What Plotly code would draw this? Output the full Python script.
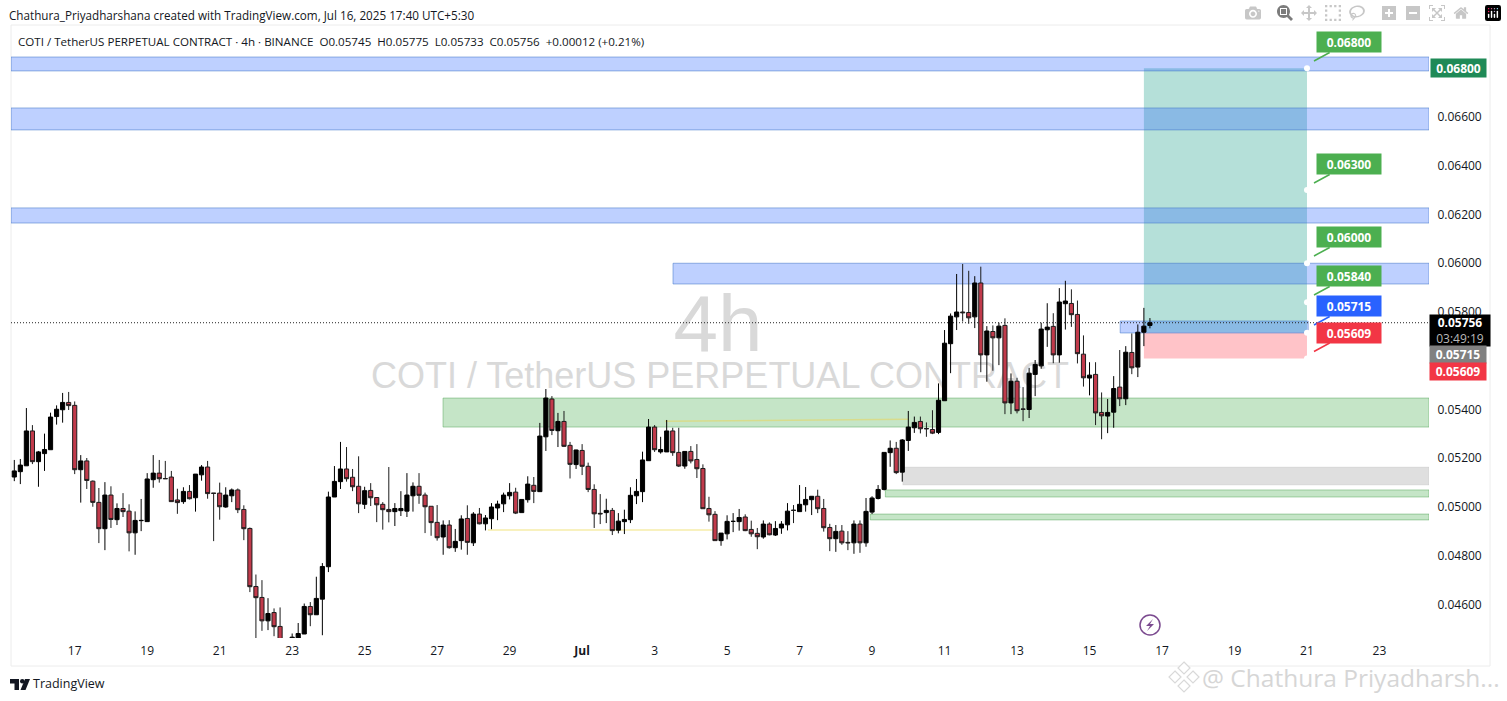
import pandas as pd
import plotly.graph_objects as go

W, H = 1507, 701
ML, MR, MT, MB = 11, 78, 25, 63

# 4h candles
opens = [
    0.05123, 0.05145, 0.05169, 0.05312, 0.05186, 0.05219, 0.05235, 0.05371, 0.05399, 0.05429,
    0.05417, 0.05153, 0.05189, 0.05106, 0.05019, 0.04911, 0.05049, 0.04948, 0.04994, 0.04983,
    0.04894, 0.04944, 0.04940, 0.05112, 0.05139, 0.05117, 0.05123, 0.05029, 0.05022, 0.05064,
    0.05038, 0.05132, 0.05164, 0.05057, 0.05057, 0.05000, 0.05046, 0.05070, 0.04990, 0.04912,
    0.04674, 0.04629, 0.04533, 0.04567, 0.04510, 0.04450, 0.04450, 0.04462, 0.04479, 0.04592,
    0.04558, 0.04622, 0.04755, 0.05041, 0.05104, 0.05156, 0.05122, 0.05085, 0.05011, 0.05068,
    0.05039, 0.05011, 0.04990, 0.04981, 0.04985, 0.04983, 0.05046, 0.05085, 0.05049, 0.05003,
    0.04937, 0.04877, 0.04926, 0.04833, 0.04862, 0.04953, 0.04853, 0.04971, 0.04931, 0.04952,
    0.04996, 0.05013, 0.05046, 0.05061, 0.04977, 0.05030, 0.05089, 0.05063, 0.05288, 0.05443,
    0.05313, 0.05351, 0.05253, 0.05174, 0.05232, 0.05167, 0.05072, 0.04974, 0.04977, 0.04986,
    0.04905, 0.04940, 0.04948, 0.05046, 0.05063, 0.05190, 0.05328, 0.05226, 0.05226, 0.05312,
    0.05224, 0.05168, 0.05228, 0.05195, 0.05158, 0.04994, 0.04970, 0.04862, 0.04890, 0.04941,
    0.04940, 0.04959, 0.04908, 0.04892, 0.04877, 0.04930, 0.04885, 0.04914, 0.04927, 0.04987,
    0.04981, 0.05009, 0.05030, 0.05044, 0.04994, 0.04916, 0.04870, 0.04901, 0.04855, 0.04853,
    0.04930, 0.04853, 0.04979, 0.05035, 0.05072, 0.05223, 0.05241, 0.05143, 0.05273, 0.05325,
    0.05351, 0.05322, 0.05318, 0.05306, 0.05436, 0.05670, 0.05780, 0.05800, 0.05798, 0.05780,
    0.05919, 0.05624, 0.05720, 0.05694, 0.05745, 0.05427, 0.05516, 0.05402, 0.05400, 0.05544,
    0.05579, 0.05727, 0.05741, 0.05624, 0.05834, 0.05835, 0.05790, 0.05627, 0.05529, 0.05544,
    0.05388, 0.05373, 0.05389, 0.05492, 0.05444, 0.05634, 0.05574, 0.05717, 0.05745,
]
highs = [
    0.05193, 0.05197, 0.05406, 0.05336, 0.05230, 0.05301, 0.05387, 0.05417, 0.05468, 0.05472,
    0.05433, 0.05213, 0.05201, 0.05109, 0.05078, 0.05102, 0.05085, 0.05015, 0.05057, 0.05011,
    0.04982, 0.05033, 0.05139, 0.05213, 0.05193, 0.05189, 0.05148, 0.05075, 0.05081, 0.05090,
    0.05135, 0.05172, 0.05189, 0.05057, 0.05100, 0.05081, 0.05076, 0.05076, 0.05007, 0.04916,
    0.04723, 0.04700, 0.04626, 0.04584, 0.04588, 0.04458, 0.04481, 0.04524, 0.04604, 0.04610,
    0.04714, 0.04770, 0.05063, 0.05168, 0.05267, 0.05246, 0.05156, 0.05208, 0.05083, 0.05098,
    0.05039, 0.05020, 0.05164, 0.05016, 0.05065, 0.05139, 0.05101, 0.05139, 0.05059, 0.05003,
    0.05008, 0.04945, 0.04946, 0.04910, 0.04966, 0.05007, 0.04979, 0.04996, 0.04967, 0.05016,
    0.05026, 0.05059, 0.05098, 0.05079, 0.05031, 0.05126, 0.05123, 0.05345, 0.05484, 0.05455,
    0.05386, 0.05394, 0.05267, 0.05235, 0.05258, 0.05182, 0.05093, 0.05053, 0.05034, 0.04996,
    0.04975, 0.04989, 0.05081, 0.05115, 0.05227, 0.05361, 0.05336, 0.05288, 0.05357, 0.05325,
    0.05325, 0.05228, 0.05250, 0.05258, 0.05175, 0.05042, 0.04983, 0.04893, 0.04966, 0.04975,
    0.04992, 0.04970, 0.04944, 0.04914, 0.04945, 0.04937, 0.04942, 0.04942, 0.05016, 0.05008,
    0.05090, 0.05082, 0.05044, 0.05071, 0.05033, 0.04931, 0.04926, 0.04926, 0.04901, 0.04945,
    0.04945, 0.05037, 0.05044, 0.05090, 0.05224, 0.05273, 0.05267, 0.05279, 0.05394, 0.05371,
    0.05371, 0.05347, 0.05397, 0.05507, 0.05726, 0.05794, 0.05956, 0.05997, 0.05969, 0.05947,
    0.05986, 0.05742, 0.05745, 0.05756, 0.05774, 0.05548, 0.05530, 0.05492, 0.05571, 0.05603,
    0.05756, 0.05836, 0.05795, 0.05898, 0.05928, 0.05893, 0.05847, 0.05704, 0.05594, 0.05594,
    0.05470, 0.05443, 0.05537, 0.05644, 0.05660, 0.05712, 0.05749, 0.05817, 0.05775,
]
lows = [
    0.05106, 0.05094, 0.05169, 0.05176, 0.05083, 0.05148, 0.05235, 0.05338, 0.05346, 0.05398,
    0.05135, 0.05018, 0.05074, 0.05001, 0.04852, 0.04823, 0.04914, 0.04926, 0.04959, 0.04818,
    0.04804, 0.04901, 0.04940, 0.05079, 0.05100, 0.05115, 0.05022, 0.04972, 0.05013, 0.05031,
    0.04981, 0.05108, 0.05034, 0.04860, 0.04948, 0.04997, 0.05020, 0.04975, 0.04864, 0.04651,
    0.04455, 0.04492, 0.04495, 0.04470, 0.04440, 0.04435, 0.04440, 0.04455, 0.04479, 0.04511,
    0.04558, 0.04474, 0.04733, 0.05041, 0.05074, 0.05104, 0.05065, 0.04975, 0.04992, 0.05004,
    0.04938, 0.04907, 0.04937, 0.04922, 0.04963, 0.04959, 0.04981, 0.05013, 0.04893, 0.04882,
    0.04862, 0.04804, 0.04829, 0.04816, 0.04825, 0.04804, 0.04840, 0.04929, 0.04904, 0.04909,
    0.04946, 0.04979, 0.05031, 0.04971, 0.04977, 0.05018, 0.05016, 0.05063, 0.05230, 0.05295,
    0.05246, 0.05246, 0.05117, 0.05156, 0.05131, 0.05061, 0.04914, 0.04930, 0.04934, 0.04885,
    0.04892, 0.04889, 0.04934, 0.05012, 0.05020, 0.05190, 0.05226, 0.05219, 0.05226, 0.05210,
    0.05164, 0.05157, 0.05179, 0.05119, 0.04993, 0.04940, 0.04862, 0.04841, 0.04867, 0.04897,
    0.04903, 0.04901, 0.04878, 0.04827, 0.04870, 0.04884, 0.04881, 0.04890, 0.04904, 0.04934,
    0.04981, 0.04981, 0.04967, 0.04975, 0.04899, 0.04819, 0.04816, 0.04845, 0.04823, 0.04808,
    0.04812, 0.04837, 0.04971, 0.05031, 0.05068, 0.05165, 0.05135, 0.05104, 0.05230, 0.05304,
    0.05302, 0.05288, 0.05299, 0.05299, 0.05436, 0.05549, 0.05726, 0.05761, 0.05752, 0.05734,
    0.05553, 0.05514, 0.05559, 0.05582, 0.05381, 0.05381, 0.05384, 0.05352, 0.05365, 0.05455,
    0.05567, 0.05657, 0.05590, 0.05592, 0.05728, 0.05739, 0.05589, 0.05494, 0.05458, 0.05336,
    0.05278, 0.05303, 0.05325, 0.05414, 0.05418, 0.05545, 0.05533, 0.05660, 0.05733,
]
closes = [
    0.05148, 0.05172, 0.05312, 0.05186, 0.05226, 0.05236, 0.05369, 0.05401, 0.05429, 0.05416,
    0.05153, 0.05189, 0.05109, 0.05019, 0.04911, 0.05049, 0.04949, 0.04994, 0.04981, 0.04894,
    0.04945, 0.04945, 0.05115, 0.05139, 0.05116, 0.05116, 0.05022, 0.05018, 0.05064, 0.05034,
    0.05135, 0.05164, 0.05055, 0.05056, 0.05001, 0.05049, 0.05070, 0.04989, 0.04911, 0.04673,
    0.04628, 0.04533, 0.04563, 0.04509, 0.04450, 0.04445, 0.04466, 0.04481, 0.04592, 0.04558,
    0.04625, 0.04756, 0.05041, 0.05105, 0.05156, 0.05116, 0.05083, 0.05013, 0.05067, 0.05038,
    0.05009, 0.04989, 0.04981, 0.04994, 0.04994, 0.05049, 0.05085, 0.05048, 0.05001, 0.04936,
    0.04874, 0.04926, 0.04833, 0.04859, 0.04951, 0.04855, 0.04971, 0.04931, 0.04955, 0.05000,
    0.05012, 0.05049, 0.05060, 0.04975, 0.05031, 0.05094, 0.05064, 0.05291, 0.05447, 0.05314,
    0.05351, 0.05249, 0.05175, 0.05234, 0.05167, 0.05072, 0.04972, 0.04972, 0.04986, 0.04903,
    0.04942, 0.04949, 0.05048, 0.05064, 0.05193, 0.05328, 0.05235, 0.05236, 0.05312, 0.05223,
    0.05168, 0.05228, 0.05189, 0.05157, 0.04993, 0.04968, 0.04862, 0.04893, 0.04941, 0.04941,
    0.04957, 0.04903, 0.04890, 0.04878, 0.04930, 0.04886, 0.04912, 0.04930, 0.04983, 0.04986,
    0.05011, 0.05031, 0.05044, 0.04993, 0.04915, 0.04870, 0.04900, 0.04853, 0.04853, 0.04930,
    0.04853, 0.04982, 0.05037, 0.05072, 0.05224, 0.05241, 0.05141, 0.05275, 0.05328, 0.05347,
    0.05321, 0.05321, 0.05303, 0.05438, 0.05672, 0.05783, 0.05800, 0.05797, 0.05776, 0.05919,
    0.05624, 0.05722, 0.05694, 0.05742, 0.05427, 0.05516, 0.05395, 0.05401, 0.05549, 0.05585,
    0.05730, 0.05738, 0.05624, 0.05841, 0.05845, 0.05789, 0.05629, 0.05530, 0.05541, 0.05386,
    0.05374, 0.05388, 0.05486, 0.05444, 0.05635, 0.05571, 0.05717, 0.05742, 0.05756,
]
times = pd.date_range("2025-06-15 09:30", periods=len(opens), freq="4h")

x_ticks = ["2025-06-17 01:30", "2025-06-19 01:30", "2025-06-21 01:30", "2025-06-23 01:30",
           "2025-06-25 01:30", "2025-06-27 01:30", "2025-06-29 01:30", "2025-07-01 01:30",
           "2025-07-03 01:30", "2025-07-05 01:30", "2025-07-07 01:30", "2025-07-09 01:30",
           "2025-07-11 01:30", "2025-07-13 01:30", "2025-07-15 01:30", "2025-07-17 01:30",
           "2025-07-19 01:30", "2025-07-21 01:30", "2025-07-23 01:30"]
x_labels = ["17", "19", "21", "23", "25", "27", "29", "<b>Jul</b>", "3", "5", "7", "9",
            "11", "13", "15", "17", "19", "21", "23"]
y_ticks = [0.046, 0.048, 0.050, 0.052, 0.054, 0.058, 0.060, 0.062, 0.064, 0.066]

x_end = "2025-07-24 10:18"

# supply / demand boxes: start, end, top, bottom
blue_zones = [
    ("2025-06-15 07:19", x_end, 0.06846, 0.06789),
    ("2025-06-15 07:19", x_end, 0.06637, 0.06547),
    ("2025-06-15 07:19", x_end, 0.06227, 0.06165),
    ("2025-07-03 13:42", x_end, 0.06000, 0.05915),
    ("2025-07-15 21:48", "2025-07-21 02:18", 0.05763, 0.05714),
]
green_zones = [
    ("2025-06-27 05:24", x_end, 0.05447, 0.05328),
    ("2025-07-09 10:18", x_end, 0.05070, 0.05041),
    ("2025-07-09 00:18", x_end, 0.04971, 0.04947),
]
gray_zone = ("2025-07-09 21:54", x_end, 0.05164, 0.05090)

pos_start, pos_end = "2025-07-16 13:30", "2025-07-21 01:30"
entry, stop, target = 0.05715, 0.05609, 0.06800
last_price = 0.05756

callout_prices = [0.06800, 0.06300, 0.06000, 0.05840, 0.05715, 0.05609]
callout_colors = ["#4CAF50", "#4CAF50", "#4CAF50", "#4CAF50", "#2962FF", "#F23645"]
callout_rows = [42, 164, 237, 276, 306, 332.5]


def xp(px):
    return (px - ML) / (W - ML - MR)


def yp(py):
    return (H - MB - py) / (H - MT - MB)


def box(z, fill, line):
    return dict(type="rect", xref="x", yref="y", x0=z[0], x1=z[1], y0=z[3], y1=z[2],
                fillcolor=fill, line=dict(color=line, width=1), layer="below")


shapes = [
    # pane outline
    dict(type="rect", xref="paper", yref="paper", x0=0, x1=xp(1490), y0=yp(666), y1=1,
         line=dict(color="#ececec", width=1), layer="below"),
    # watermarks sit under the candles
    dict(type="rect", xref="paper", yref="paper", x0=xp(560), x1=xp(876), y0=yp(350), y1=yp(280),
         line=dict(width=0), layer="below",
         label=dict(text="4h", font=dict(family="Liberation Sans", size=80, color="#d9d9d9"),
                    textposition="middle center")),
    dict(type="rect", xref="paper", yref="paper", x0=xp(300), x1=xp(1140), y0=yp(395), y1=yp(350),
         line=dict(width=0), layer="below",
         label=dict(text="COTI / TetherUS PERPETUAL CONTRACT",
                    font=dict(family="Liberation Sans", size=36, color="#d9d9d9"),
                    textposition="middle center")),
    # long position tool
    dict(type="rect", xref="x", yref="y", x0=pos_start, x1=pos_end, y0=entry, y1=target,
         fillcolor="#b5e0d9", line=dict(width=0), layer="below"),
    dict(type="rect", xref="x", yref="y", x0=pos_start, x1=pos_end, y0=stop, y1=entry,
         fillcolor="#ffc3c8", line=dict(width=0), layer="below"),
]
for z in blue_zones:
    shapes.append(box(z, "rgba(41,98,255,0.30)", "rgba(70,120,200,0.55)"))
for z in green_zones:
    shapes.append(box(z, "rgba(76,175,80,0.32)", "rgba(76,160,80,0.45)"))
shapes.append(box(gray_zone, "rgba(120,120,120,0.24)", "rgba(120,120,120,0.10)"))
shapes += [
    # liquidity lines
    dict(type="line", xref="x", yref="y", x0="2025-06-28 11:06", x1="2025-07-04 15:30",
         y0=0.04906, y1=0.04906, line=dict(color="#f6eda8", width=1.5), layer="below"),
    dict(type="line", xref="x", yref="y", x0="2025-07-03 08:18", x1="2025-07-10 01:30",
         y0=0.05352, y1=0.05360, line=dict(color="#d8dc8c", width=1.5), layer="below"),
    # last price
    dict(type="line", xref="x", yref="y", x0="2025-06-15 07:19", x1=x_end,
         y0=last_price, y1=last_price, line=dict(color="#222222", width=1, dash="1px,2px"), layer="below"),
    # bolt icon
    dict(type="circle", xref="paper", yref="paper", x0=xp(1140), x1=xp(1160), y0=yp(635), y1=yp(615),
         line=dict(color="#7b4a8f", width=1.5)),
    dict(type="path", xref="paper", yref="paper", line=dict(width=0), fillcolor="#7b4a8f",
         path=f"M{xp(1153)},{yp(619)} L{xp(1146)},{yp(626)} L{xp(1150)},{yp(626)} "
              f"L{xp(1147)},{yp(631)} L{xp(1154)},{yp(624)} L{xp(1150)},{yp(624)} Z"),
    # TradingView logo
    dict(type="path", xref="paper", yref="paper", line=dict(width=0), fillcolor="#131722",
         path=f"M{xp(10)},{yp(679)} L{xp(19)},{yp(679)} L{xp(19)},{yp(690)} L{xp(14.5)},{yp(690)} "
              f"L{xp(14.5)},{yp(683.5)} L{xp(10)},{yp(683.5)} Z"),
    dict(type="circle", xref="paper", yref="paper", x0=xp(20), x1=xp(24.5), y0=yp(683.5), y1=yp(679),
         line=dict(width=0), fillcolor="#131722"),
    dict(type="path", xref="paper", yref="paper", line=dict(width=0), fillcolor="#131722",
         path=f"M{xp(25)},{yp(679)} L{xp(30)},{yp(679)} L{xp(25.5)},{yp(690)} L{xp(20.5)},{yp(690)} Z"),
]
# repost logo, bottom right
for cx, cy in [(1184, 668), (1184, 686), (1175, 677), (1193, 677)]:
    shapes.append(dict(type="path", xref="paper", yref="paper", fillcolor="#ffffff",
                       line=dict(color="#d9d9d9", width=1.2),
                       path=f"M{xp(cx)},{yp(cy-6)} L{xp(cx+6)},{yp(cy)} L{xp(cx)},{yp(cy+6)} L{xp(cx-6)},{yp(cy)} Z"))


def text_at(px, py, text, size=12, color="#131722", family="Open Sans", anchor="left", **kw):
    return dict(xref="paper", yref="paper", x=xp(px), y=yp(py), text=text, showarrow=False,
                xanchor=anchor, yanchor="middle", font=dict(family=family, size=size, color=color), **kw)


def axis_tag(px0, px1, py0, py1, text, fill):
    return dict(xref="paper", yref="paper", x=xp((px0 + px1) / 2), y=yp((py0 + py1) / 2),
                text=text, showarrow=False, width=px1 - px0, height=py1 - py0, bgcolor=fill,
                xanchor="center", yanchor="middle", align="center", valign="middle",
                borderpad=0, font=dict(family="Open Sans", size=12, color="white"))


annotations = [
    text_at(7, 15, "Chathura_Priyadharshana created with TradingView.com, Jul 16, 2025 17:40 UTC+5:30", size=11.7),
    text_at(16, 41, "COTI / TetherUS PERPETUAL CONTRACT · 4h · BINANCE  O0.05745  H0.05775  L0.05733  "
                    "C0.05756  +0.00012 (+0.21%)", size=11.6),
    text_at(31, 684, "TradingView", size=12.5),
    text_at(1200, 677, "@ Chathura Priyadharsh...", size=24.5, color="#d6d6d6"),
    axis_tag(1431, 1486, 59, 77, "<b>0.06800</b>", "#1f8a57"),
    axis_tag(1430, 1490, 315, 346, "<b>0.05756</b><br><span style='color:#b8b8b8'>03:49:19</span>", "#000000"),
    axis_tag(1430, 1486, 346, 363, "<b>0.05715</b>", "#808080"),
    axis_tag(1430, 1486, 363, 380, "<b>0.05609</b>", "#f23645"),
]
for price, color, row in zip(callout_prices, callout_colors, callout_rows):
    annotations.append(dict(
        xref="paper", yref="paper", x=xp(1314), y=yp(row + 19), axref="pixel", ayref="pixel",
        ax=35, ay=-19, text=f"<b>{price:.5f}</b>", showarrow=True, arrowhead=0, arrowwidth=1.5,
        arrowcolor=color, standoff=0, bgcolor=color, width=64, height=20, borderpad=0,
        font=dict(family="Open Sans", size=12, color="white"),
    ))

fig = go.Figure(go.Candlestick(
    x=times, open=opens, high=highs, low=lows, close=closes,
    increasing=dict(fillcolor="#000000", line=dict(color="#000000", width=1)),
    decreasing=dict(fillcolor="#c13a4b", line=dict(color="#1c1c1c", width=1)),
    whiskerwidth=0, showlegend=False,
))
# handles on the right edge of the position tool
fig.add_trace(go.Scatter(
    x=[pos_end] * len(callout_prices), y=callout_prices, mode="markers", showlegend=False,
    marker=dict(color="white", size=6), hoverinfo="skip",
))

fig.update_layout(
    width=W, height=H, margin=dict(l=ML, r=MR, t=MT, b=MB),
    paper_bgcolor="white", plot_bgcolor="white", boxgap=0.02,
    font=dict(family="Open Sans", size=12, color="#131722"),
    shapes=shapes, annotations=annotations, showlegend=False,
    xaxis=dict(type="date", range=["2025-06-15 07:19", x_end], rangeslider=dict(visible=False),
               tickmode="array", tickvals=x_ticks, ticktext=x_labels, showgrid=False, zeroline=False,
               ticks="outside", ticklen=2, tickcolor="white", showline=False),
    yaxis=dict(side="right", range=[0.044626, 0.069774], tickmode="array", tickvals=y_ticks,
               tickformat=".5f", showgrid=False, zeroline=False, ticks="outside", ticklen=5,
               tickcolor="white", showline=False),
)

fig.write_html("out.html", post_script="document.body.style.margin = '0';")
